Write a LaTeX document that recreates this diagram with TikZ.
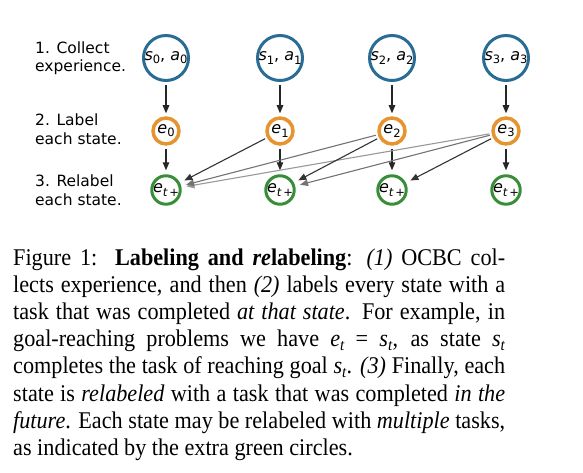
\documentclass[tikz,border=0pt]{standalone}
\usepackage{fontspec}
\usepackage{graphicx}
\setmainfont{Liberation Serif}
\newfontfamily\dv{DejaVu Sans}
\usetikzlibrary{arrows.meta}
\definecolor{cblue}{RGB}{42,108,150}
\definecolor{corange}{RGB}{230,148,48}
\definecolor{cgreen}{RGB}{56,142,56}
\newcommand{\mv}[2]{{\dv\itshape #1}\raisebox{-0.35ex}{\dv\fontsize{11.5}{11.5}\selectfont #2}}
\newcommand{\tmv}[2]{\textit{#1}\raisebox{-0.35ex}{\fontsize{15}{15}\selectfont\textit{#2}}}
\begin{document}
\begin{tikzpicture}[x=1pt,y=-1pt,
  sa/.style={circle, draw=cblue, line width=3pt, minimum size=45pt, inner sep=0pt, font=\dv\fontsize{16}{16}\selectfont},
  lab/.style={circle, draw=corange, line width=3.5pt, minimum size=26pt, inner sep=0pt, font=\dv\fontsize{16}{16}\selectfont},
  rel/.style={circle, draw=cgreen, line width=3pt, minimum size=27pt, inner sep=0pt, font=\dv\fontsize{16}{16}\selectfont},
  steplab/.style={anchor=west, align=left, inner sep=0pt, font=\dv\fontsize{15.5}{18.5}\selectfont},
  varr/.style={-{Triangle[length=8pt,width=6.5pt]}, line width=1.1pt, draw=black!85, shorten <=3pt, shorten >=3pt},
  darr/.style={-{Triangle[length=8pt,width=6.5pt]}, line width=1.1pt, shorten <=2pt, shorten >=5pt},
]
\useasboundingbox (0,0) rectangle (583,473);

\node[steplab] (l1) at (35,58) {1. Collect\\experience.};
\node[steplab] (l2) at (35,129) {2. Label\\each state.};
\node[steplab] (l3) at (35,190) {3. Relabel\\each state.};

\foreach \i/\x in {0/166,1/280,2/392,3/506}{
  \node[sa]  (s\i) at (\x,58)  {\mv{s}{\i}, \mv{a}{\i}};
  \node[lab] (e\i) at (\x,131) {\mv{e}{\i}};
  \node[rel] (g\i) at (\x,190) {\mv{e}{{\itshape t}\,+}};
  \draw[varr] (s\i) -- (e\i);
  \draw[varr, shorten >=4pt] (e\i) -- (g\i);
}

\draw[darr, draw=black!35!gray!60] (e3) -- (g0);
\draw[darr, draw=black!55] (e2) -- (g0);
\draw[darr, draw=black!55] (e3) -- (g1);
\draw[darr, draw=black!80] (e1) -- (g0);
\draw[darr, draw=black!80] (e2) -- (g1);
\draw[darr, draw=black!80] (e3) -- (g2);

\node[anchor=base west, inner sep=0pt, font=\fontsize{22.2}{27.2}\selectfont] (cap) at (13,265) {\scalebox{1}[1.08]{\vtop{\hsize=492pt \baselineskip=25.2pt
\hbox to\hsize{Figure 1:\ \ \textbf{Labeling and \textit{re}labeling}: \textit{(1)} OCBC col-}
\hbox to\hsize{lects experience, and then \textit{(2)} labels every state with a}
\hbox to\hsize{task that was completed \textit{at that state}. For example, in}
\hbox to\hsize{goal-reaching problems we have \tmv{e}{t} = \tmv{s}{t}, as state \tmv{s}{t}}
\hbox to\hsize{completes the task of reaching goal \tmv{s}{t}. \textit{(3)} Finally, each}
\hbox to\hsize{state is \textit{relabeled} with a task that was completed \textit{in the}}
\hbox to\hsize{\textit{future}. Each state may be relabeled with \textit{multiple} tasks,}
\hbox{as indicated by the extra green circles.}}}};
\end{tikzpicture}
\end{document}
